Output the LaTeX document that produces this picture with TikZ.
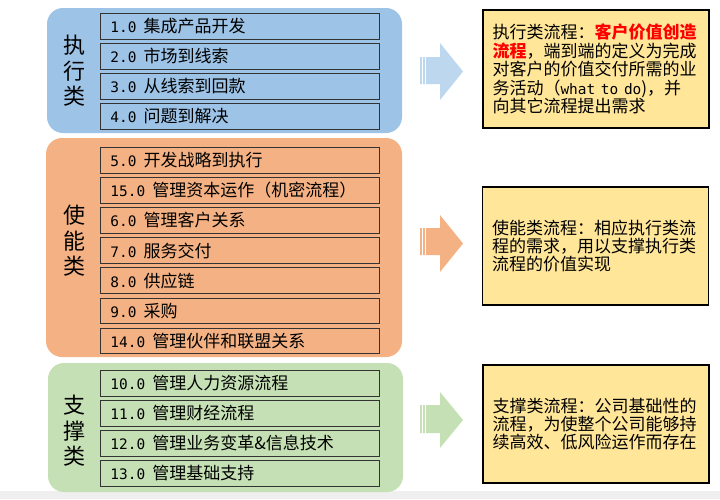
\documentclass[tikz,border=0pt]{standalone}
\usepackage{fontspec}
\setmainfont{Noto Sans CJK SC}
\setmonofont{DejaVu Sans Mono}[Scale=0.85]
\usetikzlibrary{positioning}

\definecolor{execblue}{HTML}{9DC3E6}
\definecolor{enableorange}{HTML}{F4B183}
\definecolor{supportgreen}{HTML}{C5E0B4}
\definecolor{arrowblue}{HTML}{BDD7EE}
\definecolor{arroworange}{HTML}{F4B183}
\definecolor{arrowgreen}{HTML}{C5E0B4}
\definecolor{descyellow}{HTML}{FFE699}
\definecolor{stripgray}{HTML}{EFEFEF}

\newcommand{\procnum}[1]{{\ttfamily #1}\hspace{7pt}}

\begin{document}
\begin{tikzpicture}[
    x=1pt, y=-1pt,
    font=\fontsize{17}{18.4}\selectfont,
    panel/.style={
        rectangle, draw=none, rounded corners=16pt, inner sep=0pt
    },
    grouplabel/.style={
        align=center, inner sep=0pt,
        font=\fontsize{22}{25.5}\selectfont
    },
    procbox/.style={
        rectangle, draw=black!80, line width=0.9pt,
        minimum width=279pt, minimum height=25.5pt,
        text width=259pt, inner xsep=10pt, inner ysep=0pt, align=left
    },
    descbox/.style={
        rectangle, draw=black, line width=1.4pt, fill=descyellow,
        minimum width=226pt, minimum height=118pt,
        text width=207pt, inner xsep=9.5pt, align=left
    },
    blockarrow/.style={draw=none}
]

    \useasboundingbox (0,0) rectangle (720,499);
    \fill[stripgray] (0,491) rectangle (720,499);

    % --- GROUP PANELS ---
    \node [panel, fill=execblue, minimum width=355pt, minimum height=125pt] (exec) at (224.5,70.5) {};
    \node [panel, fill=enableorange, minimum width=356pt, minimum height=219pt] (enable) at (224,247.5) {};
    \node [panel, fill=supportgreen, minimum width=355pt, minimum height=129pt] (support) at (225.5,427.5) {};

    \node [grouplabel] (exec_lbl) at (74,71) {执\\行\\类};
    \node [grouplabel] (enable_lbl) at (74,241) {使\\能\\类};
    \node [grouplabel] (support_lbl) at (74,431) {支\\撑\\类};

    % --- PROCESS BOXES ---
    \node [procbox, anchor=north west] (p1) at (100,13) {\procnum{1.0}集成产品开发};
    \node [procbox, below=3.7pt of p1] (p2) {\procnum{2.0}市场到线索};
    \node [procbox, below=3.7pt of p2] (p3) {\procnum{3.0}从线索到回款};
    \node [procbox, below=3.7pt of p3] (p4) {\procnum{4.0}问题到解决};

    \node [procbox, anchor=north west] (p5) at (100,147) {\procnum{5.0}开发战略到执行};
    \node [procbox, below=3.7pt of p5] (p15) {\procnum{15.0}管理资本运作（机密流程）};
    \node [procbox, below=3.7pt of p15] (p6) {\procnum{6.0}管理客户关系};
    \node [procbox, below=3.7pt of p6] (p7) {\procnum{7.0}服务交付};
    \node [procbox, below=3.7pt of p7] (p8) {\procnum{8.0}供应链};
    \node [procbox, below=3.7pt of p8] (p9) {\procnum{9.0}采购};
    \node [procbox, below=3.7pt of p9] (p14) {\procnum{14.0}管理伙伴和联盟关系};

    \node [procbox, anchor=north west] (p10) at (100,370) {\procnum{10.0}管理人力资源流程};
    \node [procbox, below=3.7pt of p10] (p11) {\procnum{11.0}管理财经流程};
    \node [procbox, below=3.7pt of p11] (p12) {\procnum{12.0}管理业务变革\&信息技术};
    \node [procbox, below=3.7pt of p12] (p13) {\procnum{13.0}管理基础支持};

    % --- BLOCK ARROWS ---
    \fill [blockarrow, arrowblue] (420,57) -- (440,57) -- (440,43) -- (463,71.5) -- (440,100) -- (440,84) -- (420,84) -- cycle;
    \fill [blockarrow, arroworange] (420,228) -- (440,228) -- (440,215) -- (463,243.5) -- (440,272) -- (440,255) -- (420,255) -- cycle;
    \fill [blockarrow, arrowgreen] (420,405) -- (440,405) -- (440,392) -- (463,420) -- (440,448) -- (440,433) -- (420,433) -- cycle;
    \foreach \ya/\yb in {57/84, 228/255, 405/433} {
        \draw [white, line width=0.6pt] (422.5,\ya) -- (422.5,\yb);
        \draw [white, line width=0.6pt] (425.5,\ya) -- (425.5,\yb);
    }

    % --- DESCRIPTIONS ---
    \node [descbox] (exec_desc) at (596,69) {执行类流程：\textcolor{red}{\bfseries 客户价值创造\\流程}，端到端的定义为完成\\对客户的价值交付所需的业\\务活动（{\ttfamily what to do})，并\\向其它流程提出需求};
    \node [descbox] (enable_desc) at (595.5,246) {使能类流程：相应执行类流\\程的需求，用以支撑执行类\\流程的价值实现\\[6pt]};
    \node [descbox] (support_desc) at (596,424) {支撑类流程：公司基础性的\\流程，为使整个公司能够持\\续高效、低风险运作而存在};

\end{tikzpicture}
\end{document}
